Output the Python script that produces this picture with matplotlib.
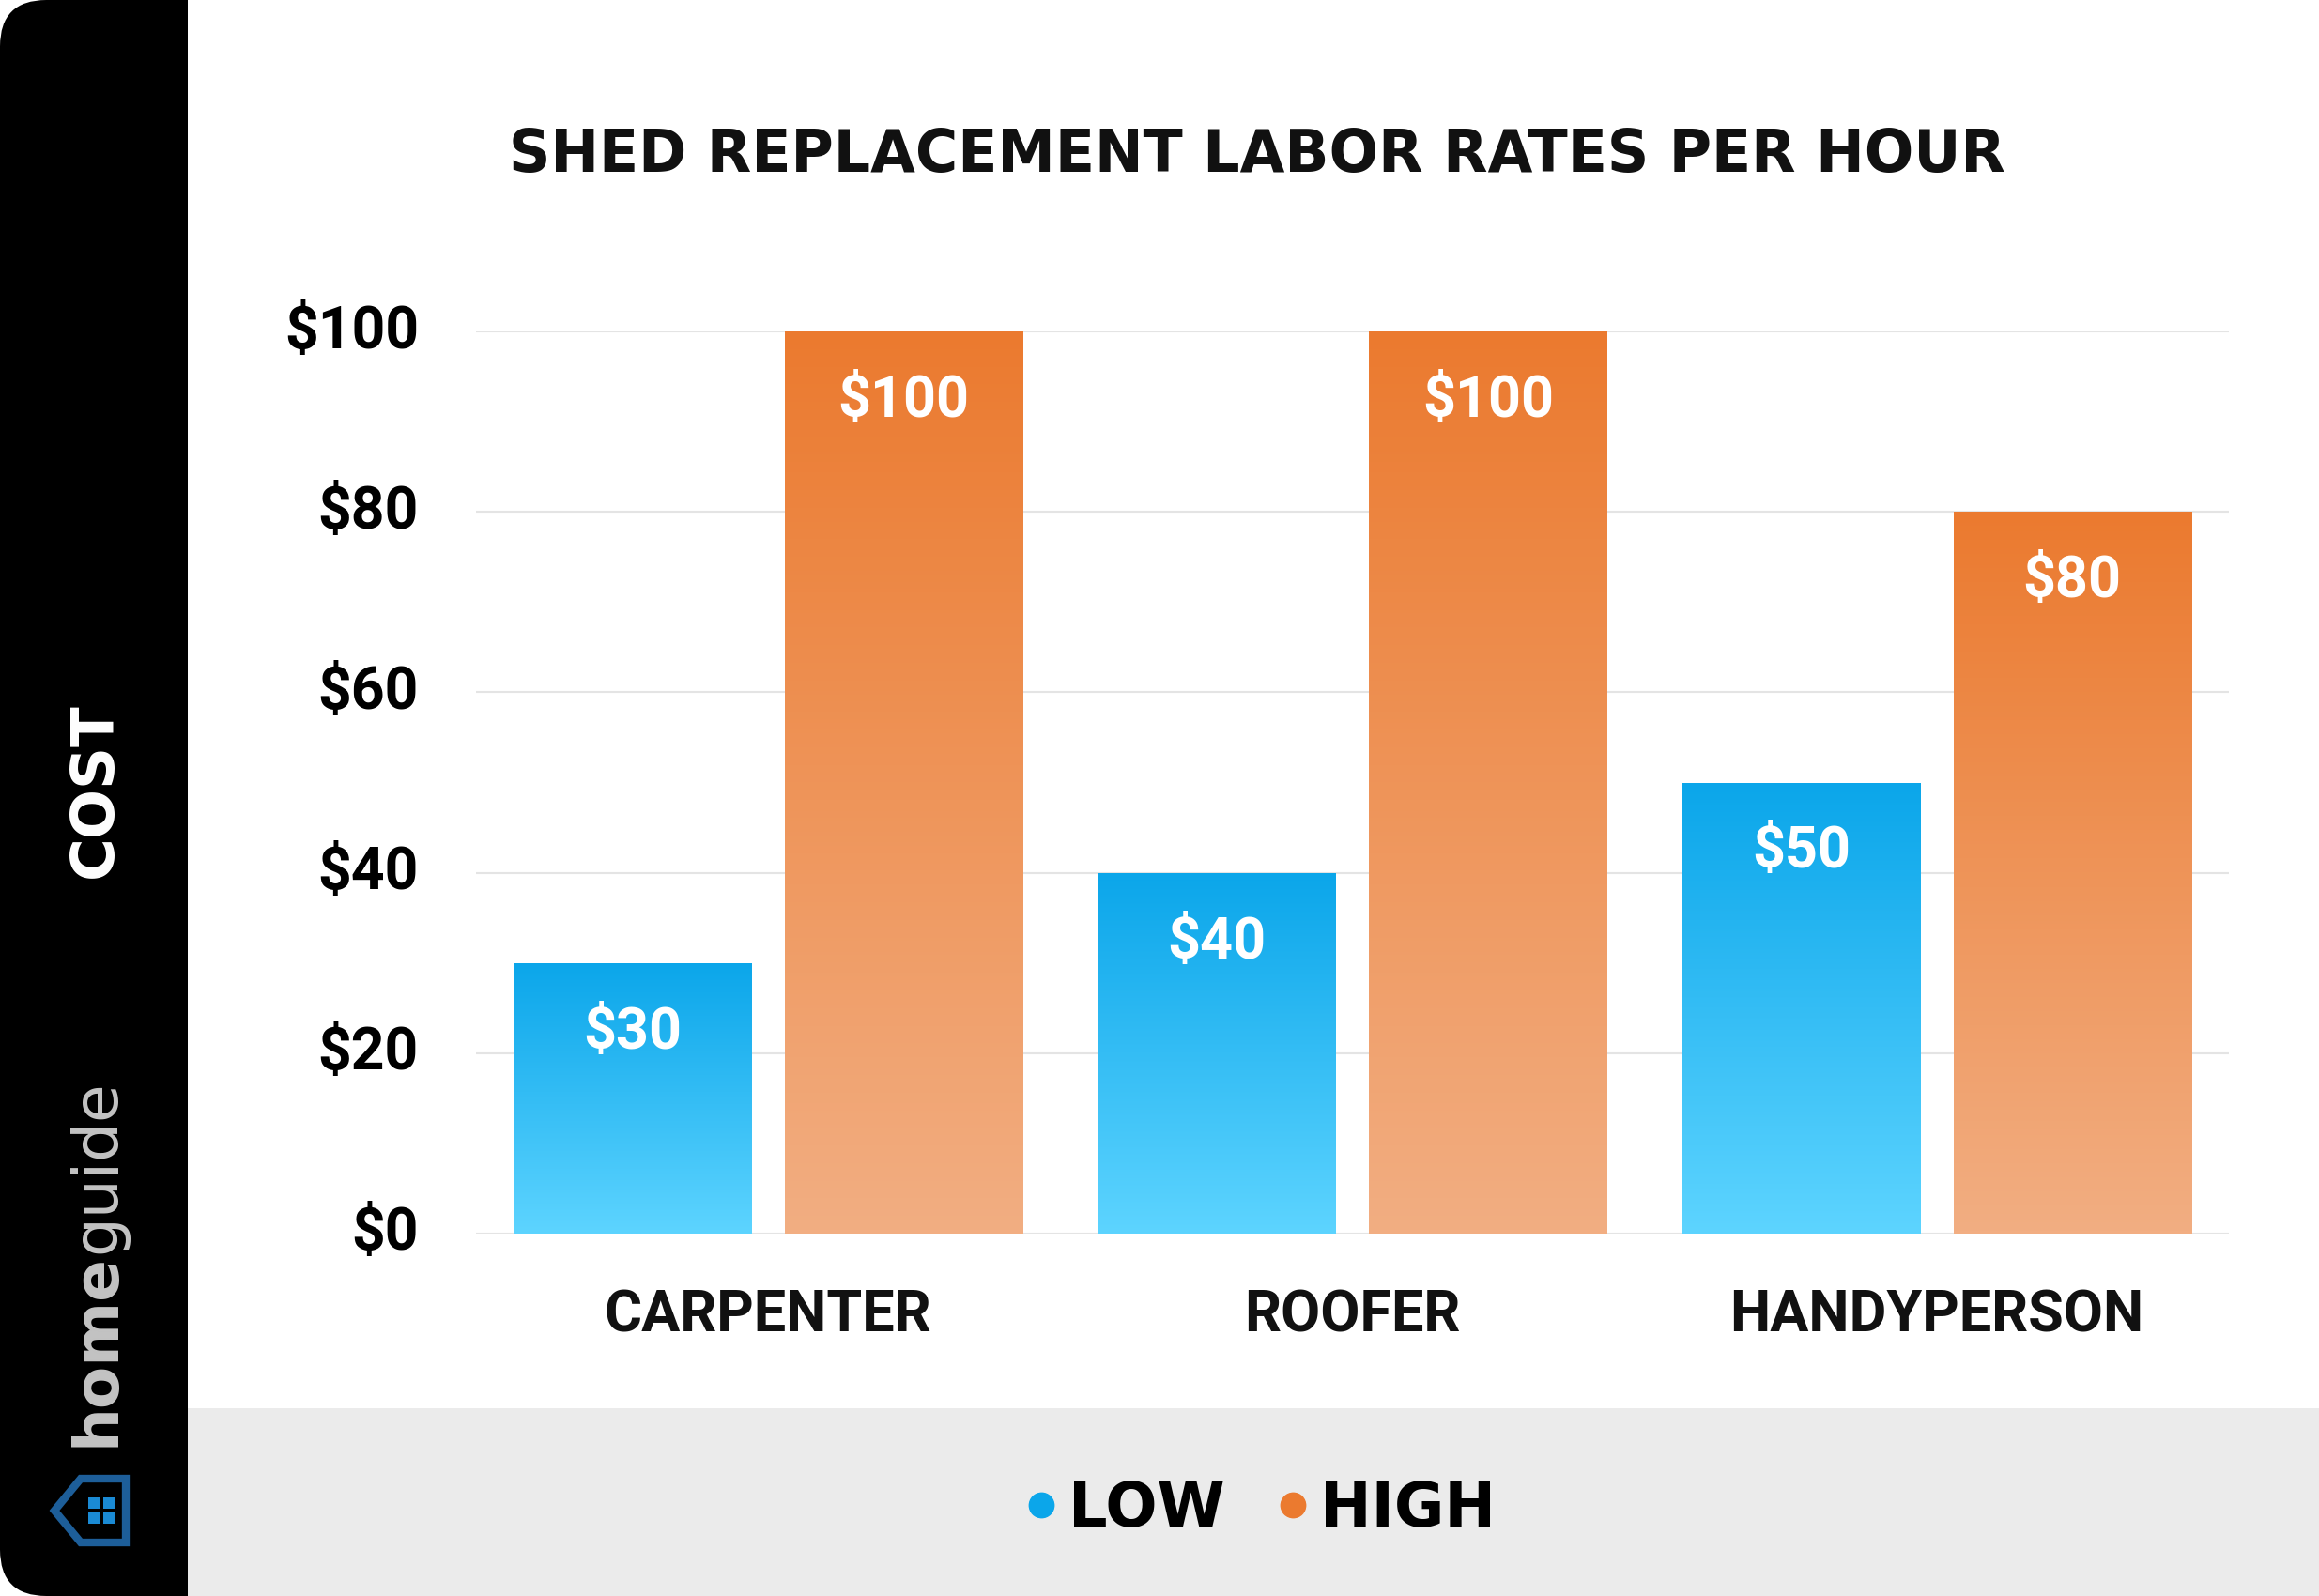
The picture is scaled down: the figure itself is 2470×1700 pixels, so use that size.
import numpy as np
from matplotlib import pyplot as plt
from matplotlib.patches import FancyBboxPatch, Rectangle, Polygon
from matplotlib.lines import Line2D
from matplotlib.colors import to_rgb
from matplotlib.transforms import ScaledTranslation

categories = ['CARPENTER', 'ROOFER', 'HANDYPERSON']
low_rates = [30, 40, 50]
high_rates = [100, 100, 80]
y_ticks = [0, 20, 40, 60, 80, 100]
y_tick_labels = ['$0', '$20', '$40', '$60', '$80', '$100']

W, H = 2470, 1700
blue_top, blue_bottom = '#0ba6ea', '#5dd4ff'
orange_top, orange_bottom = '#eb7a2f', '#f2ae82'


def gradient_fill(ax, bars, top, bottom):
    t = np.array(to_rgb(top))
    b = np.array(to_rgb(bottom))
    f = np.linspace(0, 1, 256)[:, None]
    img = (t * (1 - f) + b * f)[:, None, :]
    for bar in bars:
        x, y = bar.get_x(), bar.get_y()
        w, h = bar.get_width(), bar.get_height()
        im = ax.imshow(img, extent=[x, x + w, y, y + h], origin='upper',
                       aspect='auto', zorder=3)
        im.set_clip_path(bar)


fig = plt.figure(figsize=(W / 100, H / 100), dpi=100)
fig.patch.set_facecolor('white')

# card background
fig.add_artist(FancyBboxPatch((0, 0), 260 / W, 1, boxstyle='round,pad=0,rounding_size=0.02',
                              transform=fig.transFigure, facecolor='black', edgecolor='none',
                              mutation_aspect=W / H, zorder=0))
fig.add_artist(Rectangle((200 / W, 0), 1 - 200 / W, 1, transform=fig.transFigure,
                         facecolor='white', edgecolor='none', zorder=0))
fig.add_artist(Rectangle((200 / W, 0), 1 - 200 / W, 200 / H, transform=fig.transFigure,
                         facecolor='#ebebeb', edgecolor='none', zorder=0))

ax = fig.add_axes([507 / W, 386 / H, (2374 - 507) / W, (1314 - 353) / H])
ax.set_facecolor('none')

x = np.arange(len(categories))
bar_w = 0.407
off = 0.232
low_bars = ax.bar(x - off, low_rates, width=bar_w, color=blue_top, zorder=2)
high_bars = ax.bar(x + off, high_rates, width=bar_w, color=orange_top, zorder=2)
gradient_fill(ax, low_bars, blue_top, blue_bottom)
gradient_fill(ax, high_bars, orange_top, orange_bottom)

for bars, vals in [(low_bars, low_rates), (high_bars, high_rates)]:
    for bar, v in zip(bars, vals):
        ax.text(bar.get_x() + bar.get_width() / 2, v - 7.7, '$%d' % v,
                ha='center', va='center', color='white', fontsize=44,
                fontfamily='Roboto', fontweight='bold', zorder=5)

ax.set_xlim(-0.5, 2.5)
ax.set_ylim(0, 100)
ax.set_yticks(y_ticks)
ax.set_yticklabels(y_tick_labels, fontfamily='Roboto', fontweight='bold', fontsize=45)
ax.set_xticks(x)
ax.set_xticklabels(categories, fontfamily='Roboto', fontweight='bold', fontsize=44, color='#111111')
ax.tick_params(axis='y', length=0, pad=44)
ax.tick_params(axis='x', length=0, pad=42)
lift = ScaledTranslation(0, 6 / 100, fig.dpi_scale_trans)
for lab in ax.get_yticklabels():
    lab.set_transform(lab.get_transform() + lift)
ax.grid(axis='y', color='#e4e4e4', linewidth=1.5, zorder=0)
ax.set_axisbelow(True)
for s in ax.spines.values():
    s.set_visible(False)

fig.text(1339 / W, 1 - 166 / H, 'SHED REPLACEMENT LABOR RATES PER HOUR', ha='center', va='center',
         fontsize=44.5, fontweight='bold', fontfamily='DejaVu Sans', color='#111111')

# side label
fig.text(102 / W, 1 - 842 / H, 'COST', rotation=90, ha='center', va='center', color='white',
         fontsize=45, fontweight='bold', fontfamily='DejaVu Sans')

# logo
t1 = fig.text(122 / W, 159 / H, 'home', rotation=90, rotation_mode='anchor', ha='left',
              va='baseline', color='#c4c4c4', fontsize=47.5, fontweight='bold', fontfamily='DejaVu Sans')
fig.canvas.draw()
bb = t1.get_window_extent()
fig.text(122 / W, (159 + bb.height) / H, 'guide', rotation=90, rotation_mode='anchor', ha='left',
         va='baseline', color='#c4c4c4', fontsize=47.5, fontfamily='DejaVu Sans')
house = [(58, 91), (86, 125), (134, 125), (134, 57), (86, 57)]
fig.add_artist(Polygon([(px / W, py / H) for px, py in house], closed=True, transform=fig.transFigure,
                       facecolor='none', edgecolor='#1d5e99', linewidth=6, joinstyle='miter'))
for dx in (-8, 8):
    for dy in (-8, 8):
        fig.add_artist(Rectangle(((108 + dx - 6) / W, (91 + dy - 6) / H), 12 / W, 12 / H,
                                 transform=fig.transFigure, facecolor='#1a8ad4', edgecolor='none'))

handles = [Line2D([], [], marker='o', linestyle='none', markersize=19, color=blue_top),
           Line2D([], [], marker='o', linestyle='none', markersize=19, color=orange_top)]
fig.legend(handles, ['LOW', 'HIGH'], loc='center', bbox_to_anchor=(1343 / W, 92 / H), ncol=2,
           frameon=False, handlelength=0.5, handletextpad=0.2, columnspacing=0.85,
           prop={'family': 'DejaVu Sans', 'weight': 'bold', 'size': 47})

fig.savefig('out.png', dpi=100, facecolor=fig.get_facecolor())
